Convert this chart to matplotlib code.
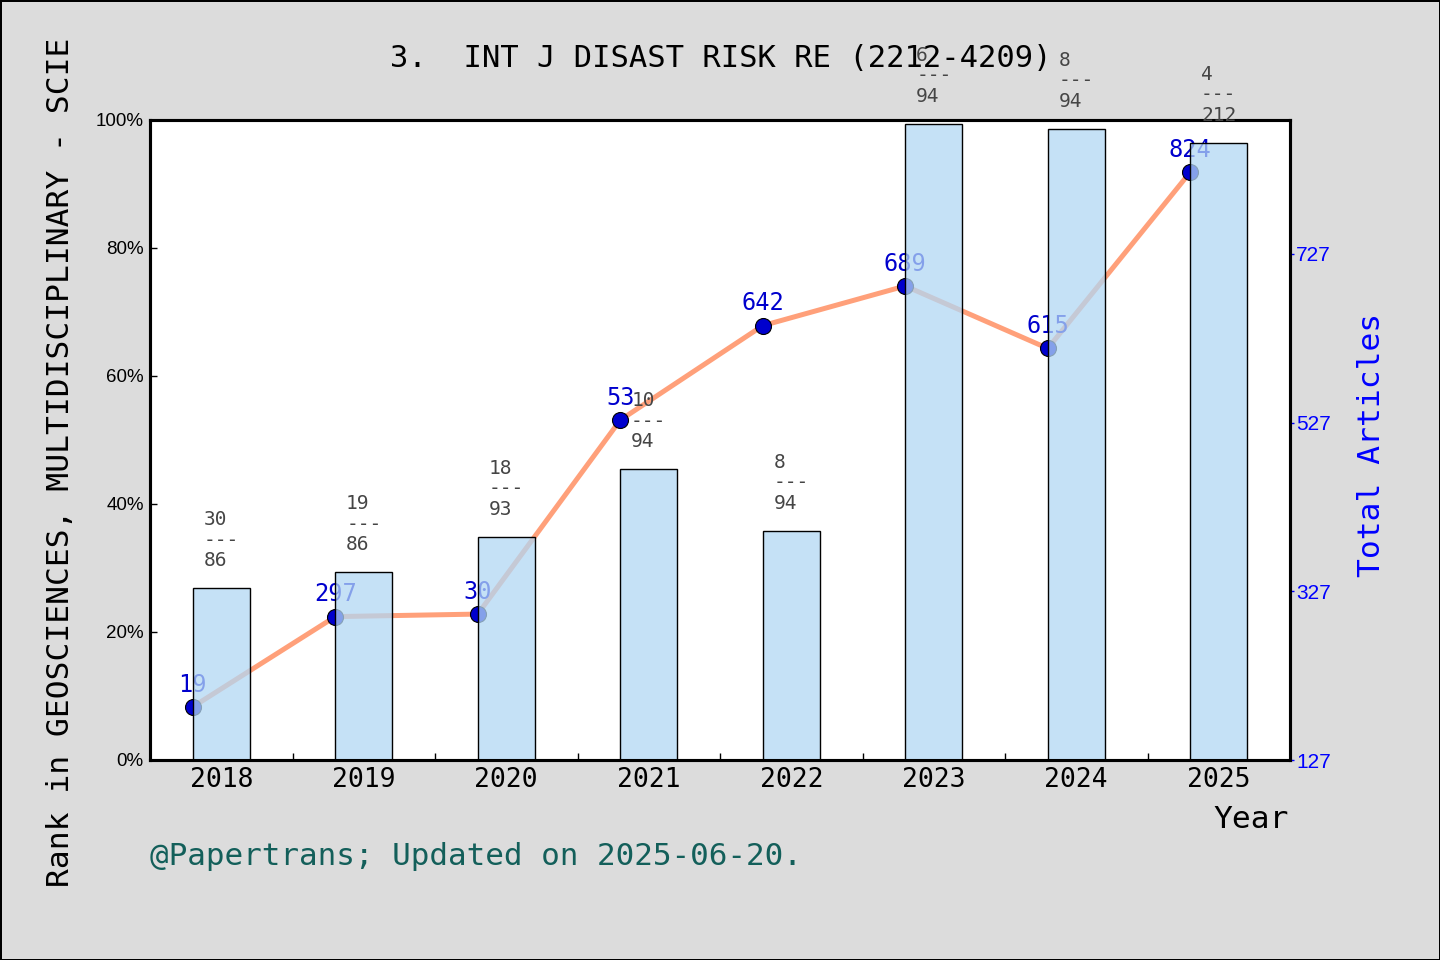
import matplotlib
matplotlib.use('Agg')
import matplotlib.pyplot as plt
from matplotlib.ticker import FuncFormatter
import numpy as np

# ---- data ----
years = ['2018', '2019', '2020', '2021', '2022', '2023', '2024', '2025']
rank_pct = [26.8, 29.3, 34.9, 45.4, 35.8, 99.4, 98.6, 96.4]
rank_labels = ['30\n---\n86', '19\n---\n86', '18\n---\n93', '10\n---\n94',
               '8\n---\n94', '6\n---\n94', '8\n---\n94', '4\n---\n212']
articles = [190, 297, 300, 530, 642, 689, 615, 824]
article_labels = ['19', '297', '30', '53', '642', '689', '615', '824']
right_ticks = [127, 327, 527, 727]
pct_ticks = [0, 20, 40, 60, 80, 100]
title = '3.  INT J DISAST RISK RE (2212-4209)'
ylabel = 'Rank in GEOSCIENCES, MULTIDISCIPLINARY - SCIE'
y2label = 'Total Articles'
watermark = '@Papertrans; Updated on 2025-06-20.'

plt.rcParams['font.family'] = ['Liberation Sans', 'DejaVu Sans']
MONO = ['DejaVu Sans Mono', 'DejaVu Sans']

W, H = 1440, 960
fig = plt.figure(figsize=(14.4, 9.6), dpi=100, facecolor='#DCDCDC',
                 edgecolor='black', linewidth=2)
ax = fig.add_axes([150 / W, 200 / H, 1140 / W, 640 / H])
ax2 = ax.twinx()
ax.set_zorder(2)
ax2.set_zorder(1)
ax.patch.set_visible(False)
ax2.patch.set_visible(True)
ax2.patch.set_facecolor('white')

x = np.arange(len(years))

# bars (rank %) drawn on top with transparency
bar_color = (178 / 255, 215 / 255, 244 / 255, 0.75)
ax.bar(x, np.array(rank_pct) / 100.0, width=0.4, color=bar_color,
       edgecolor='black', linewidth=1.0)
for xi, p, lbl in zip(x, rank_pct, rank_labels):
    ax.annotate(lbl, (xi, p / 100.0), xytext=(0, 13), textcoords='offset points',
                ha='center', va='bottom', multialignment='left', fontsize=14,
                color='#454545', linespacing=1.1, family=MONO,
                annotation_clip=False)

# line (total articles)
xl = x - 0.2
ax2.plot(xl, articles, color='#FFA07A', lw=3.6, marker='o', ms=11.5,
         mfc='#0000CD', mec='black', mew=0.8, solid_capstyle='round')
for xi, v, lbl in zip(xl, articles, article_labels):
    ax2.annotate(lbl, (xi, v), xytext=(0, 11), textcoords='offset points',
                 ha='center', va='baseline', color='#0000CD', fontsize=17,
                 family=MONO, annotation_clip=False)

ax.set_xlim(-0.5, len(years) - 0.5)
ax.set_ylim(0, 1)
ax2.set_ylim(127, 824 * 1.075)

# x ticks
ax.set_xticks(x)
ax.set_xticklabels(years, fontsize=19, family=MONO)
ax.tick_params(axis='x', which='major', length=0, pad=5)
ax.set_xticks(x[:-1] + 0.5, minor=True)
ax.tick_params(axis='x', which='minor', direction='in', length=5, width=1)

# left y ticks
ax.set_yticks(np.array(pct_ticks) / 100.0)
ax.yaxis.set_major_formatter(FuncFormatter(lambda v, p: f'{int(round(v * 100))}%'))
ax.tick_params(axis='y', direction='in', length=5, width=1, labelsize=13.5, pad=4.5)

# right y ticks
ax2.set_yticks(right_ticks)
ax2.tick_params(axis='y', direction='out', length=3, width=1, colors='blue',
                labelsize=15, pad=1.5)

for a in (ax, ax2):
    for s in a.spines.values():
        s.set_linewidth(2.2)
        s.set_color('black')

# texts
fig.text(721 / W, 1 - 67 / H, title, ha='center', va='baseline',
         fontsize=22, family=MONO, color='black')
fig.text(61 / W, 1 - 462 / H, ylabel, ha='center', va='center', rotation=90,
         fontsize=22.5, family=MONO, color='black')
fig.text(1372 / W, 1 - 445 / H, y2label, ha='center', va='center', rotation=90,
         fontsize=22.5, family=MONO, color='blue')
fig.text(1289 / W, 1 - 828 / H, 'Year', ha='right', va='baseline',
         fontsize=22.5, family=MONO, color='black')
fig.text(150 / W, 1 - 865 / H, watermark, ha='left', va='baseline',
         fontsize=22.3, family=MONO, color='#135F5A')

fig.savefig('out.png', dpi=100, facecolor=fig.get_facecolor(),
            edgecolor=fig.get_edgecolor())
